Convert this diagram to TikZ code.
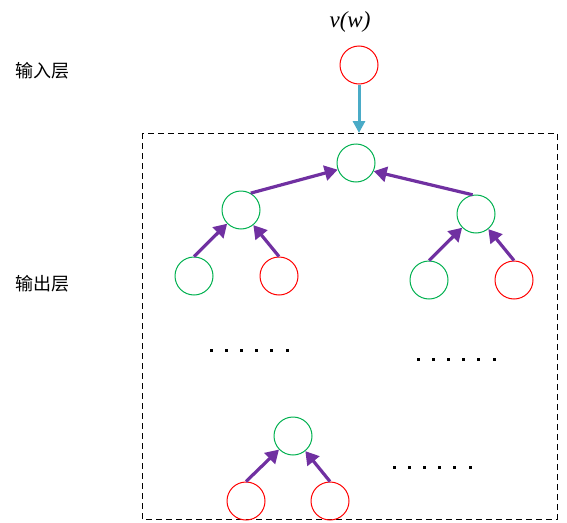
\documentclass[tikz,border=0pt]{standalone}
\usepackage{fontspec}
\setmainfont{Liberation Serif}
\newfontfamily\cjk{Noto Sans CJK SC}
\usetikzlibrary{arrows.meta,positioning}
\definecolor{cG}{rgb}{0,0.69,0.31}
\definecolor{cR}{rgb}{1,0,0}
\definecolor{cP}{rgb}{0.44,0.19,0.63}
\definecolor{cT}{rgb}{0.29,0.67,0.78}
\tikzset{greenblob/.style={
  shape=circle,
  draw=cG,
  line width=1pt,
  minimum size=38pt,
  inner sep=0pt,
  }
}
\tikzset{redblob/.style={
  shape=circle,
  draw=cR,
  line width=1pt,
  minimum size=38pt,
  inner sep=0pt,
  }
}
\tikzset{uparrow/.style={
  draw=cP,
  line width=3.2pt,
  -{Triangle[width=15pt,length=13pt]},
  }
}
\begin{document}
\begin{tikzpicture}[x=1pt,y=-1pt]
  \useasboundingbox (0,0) rectangle (567,522);
  % input layer
  \node [redblob] (in) at (359,65) { };
  \node [font=\fontsize{23}{26}\selectfont\itshape] (vw) at (350,22) {v(w)};
  \node [font=\fontsize{18}{20}\selectfont\cjk] (lin) at (42,71) {输入层};
  \node [font=\fontsize{18}{20}\selectfont\cjk] (lout) at (42,284) {输出层};

  % output layer
  \draw [dashed, line width=1pt, dash pattern=on 6pt off 4pt] (142,133) rectangle (557,519);
  \coordinate (boxtop) at (359,133);
  \node [greenblob] (top) at (356,163) { };
  \node [greenblob] (lm) at (241,210) { };
  \node [greenblob] (rm) at (476,214) { };
  \node [greenblob] (ll) at (194,276) { };
  \node [redblob] (lr) at (279,276) { };
  \node [greenblob] (rl) at (429,280) { };
  \node [redblob] (rr) at (514,280) { };
  \node [greenblob] (bm) at (293,436) { };
  \node [redblob] (bl) at (246,501) { };
  \node [redblob] (br) at (330,501) { };

  \draw [draw=cT, line width=3pt, -{Triangle[width=12pt,length=12pt]}] (in) -- (boxtop);
  \draw [uparrow] (lm.60) -- (top.200);
  \draw [uparrow] (rm.100) -- (top.335);
  \draw [uparrow] (ll.north) -- (lm);
  \draw [uparrow] (lr.north) -- (lm);
  \draw [uparrow] (rl.north) -- (rm);
  \draw [uparrow] (rr.north) -- (rm);
  \draw [uparrow] (bl.north) -- (bm);
  \draw [uparrow] (br.north) -- (bm);

  % dots
  \foreach \i in {0,...,5} {
    \fill (211+\i*15.2-1.5,350-1) rectangle ++(3,2.5);
    \fill (418+\i*15.2-1.5,359-1) rectangle ++(3,2.5);
    \fill (394+\i*15.2-1.5,467-1) rectangle ++(3,2.5);
  }
\end{tikzpicture}
\end{document}
